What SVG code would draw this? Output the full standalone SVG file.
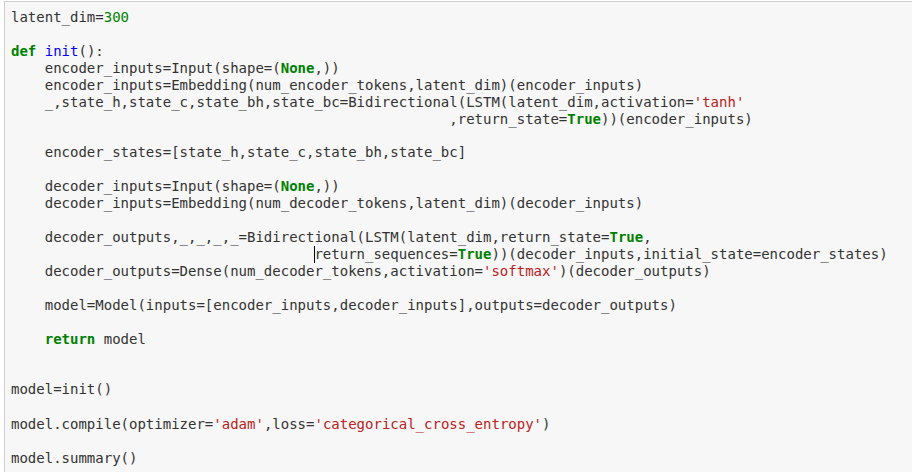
<svg xmlns="http://www.w3.org/2000/svg" width="912" height="472" viewBox="0 0 912 472">
<style>
text{font-family:"DejaVu Sans Mono",monospace;font-size:14px;fill:#333;white-space:pre}
.k{fill:#008000;font-weight:bold}
.n{fill:#008000}
.s{fill:#ba2121}
.f{fill:#0000ff}
</style>
<rect x="0" y="0" width="912" height="472" fill="#ffffff"/>
<rect x="4.5" y="1.5" width="920" height="480" fill="#f7f7f7" stroke="#cfcfcf"/>
<text x="11" y="22">latent_dim=<tspan class="n">300</tspan></text>
<text x="11" y="56"><tspan class="k">def</tspan> <tspan class="f">init</tspan>():</text>
<text x="11" y="73">    encoder_inputs=Input(shape=(<tspan class="k">None</tspan>,))</text>
<text x="11" y="90">    encoder_inputs=Embedding(num_encoder_tokens,latent_dim)(encoder_inputs)</text>
<text x="11" y="107">    _,state_h,state_c,state_bh,state_bc=Bidirectional(LSTM(latent_dim,activation=<tspan class="s">'tanh'</tspan></text>
<text x="11" y="124">                                                    ,return_state=<tspan class="k">True</tspan>))(encoder_inputs)</text>
<text x="11" y="157">    encoder_states=[state_h,state_c,state_bh,state_bc]</text>
<text x="11" y="191">    decoder_inputs=Input(shape=(<tspan class="k">None</tspan>,))</text>
<text x="11" y="208">    decoder_inputs=Embedding(num_decoder_tokens,latent_dim)(decoder_inputs)</text>
<text x="11" y="242">    decoder_outputs,_,_,_,_=Bidirectional(LSTM(latent_dim,return_state=<tspan class="k">True</tspan>,</text>
<text x="11" y="259">                                    return_sequences=<tspan class="k">True</tspan>))(decoder_inputs,initial_state=encoder_states)</text>
<line x1="314.5" y1="246" x2="314.5" y2="263" stroke="#000" stroke-width="1"/>
<text x="11" y="276">    decoder_outputs=Dense(num_decoder_tokens,activation=<tspan class="s">'softmax'</tspan>)(decoder_outputs)</text>
<text x="11" y="310">    model=Model(inputs=[encoder_inputs,decoder_inputs],outputs=decoder_outputs)</text>
<text x="11" y="344">    <tspan class="k">return</tspan> model</text>
<text x="11" y="394">model=init()</text>
<text x="11" y="429">model.compile(optimizer=<tspan class="s">'adam'</tspan>,loss=<tspan class="s">'categorical_cross_entropy'</tspan>)</text>
<text x="11" y="463">model.summary()</text>
</svg>
